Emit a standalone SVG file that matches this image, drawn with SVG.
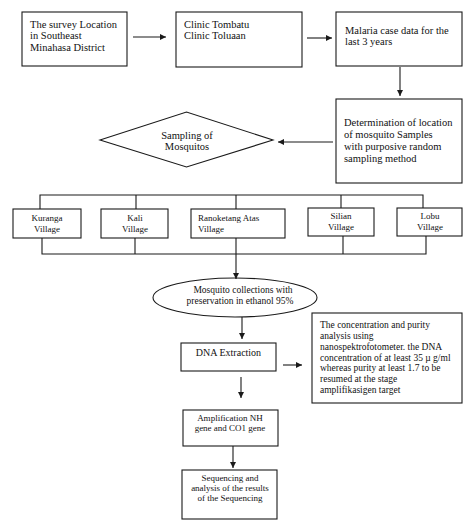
<svg xmlns="http://www.w3.org/2000/svg" width="474" height="526" viewBox="0 0 474 526">
<style>
.b{fill:#fff;stroke:#1a1a1a;stroke-width:1.1}
.t{font-family:"Liberation Serif","Times New Roman",serif;fill:#111}
.l{font-size:10.5px}
.s{font-size:9px}
.m{font-size:9.5px}
.c{text-anchor:middle}
.w{fill:none;stroke:#1a1a1a;stroke-width:1.1}
</style>
<defs>
<marker id="ah" viewBox="0 0 10 10" refX="10" refY="5" markerWidth="6" markerHeight="6" markerUnits="userSpaceOnUse" orient="auto">
<path d="M0,0 L10,5 L0,10 z" fill="#1a1a1a"/>
</marker>
</defs>
<rect width="474" height="526" fill="#fff"/>

<g id="survey">
<rect class="b" x="22" y="12" width="105" height="54"/>
<text class="t l" x="30" y="27.5">The survey Location</text>
<text class="t l" x="30" y="39">in Southeast</text>
<text class="t l" x="30" y="50.5">Minahasa District</text>
</g>
<g id="clinic">
<rect class="b" x="176" y="12" width="126" height="55"/>
<text class="t l" x="184" y="27.5">Clinic Tombatu</text>
<text class="t l" x="184" y="38.5">Clinic Toluaan</text>
</g>
<g id="malaria">
<rect class="b" x="336" y="12" width="126" height="54"/>
<text class="t l" x="345" y="33.5">Malaria case data for the</text>
<text class="t l" x="345" y="45">last 3 years</text>
</g>
<g id="determination">
<rect class="b" x="336" y="99" width="126" height="84"/>
<text class="t l" x="344" y="125.5">Determination of location</text>
<text class="t l" x="344" y="137.5">of mosquito Samples</text>
<text class="t l" x="344" y="149.5">with purposive random</text>
<text class="t l" x="344" y="162">sampling method</text>
</g>
<g id="sampling">
<polygon class="b" points="100,140 186.5,112 273,140 186.5,167"/>
<text class="t l c" x="187" y="138.5">Sampling of</text>
<text class="t l c" x="187" y="150">Mosquitos</text>
</g>
<g id="kuranga">
<rect class="b" x="13" y="209" width="68" height="29"/>
<text class="t s c" x="47" y="221">Kuranga</text>
<text class="t s c" x="47" y="232">Village</text>
</g>
<g id="kali">
<rect class="b" x="101" y="209" width="67" height="29"/>
<text class="t s c" x="135" y="221">Kali</text>
<text class="t s c" x="135" y="232">Village</text>
</g>
<g id="ranoketang">
<rect class="b" x="191" y="209" width="94" height="29"/>
<text class="t s" x="198" y="221">Ranoketang Atas</text>
<text class="t s" x="198" y="232">Village</text>
</g>
<g id="silian">
<rect class="b" x="308" y="208" width="66" height="28"/>
<text class="t s c" x="341" y="218.5">Silian</text>
<text class="t s c" x="341" y="229.5">Village</text>
</g>
<g id="lobu">
<rect class="b" x="397" y="208" width="65" height="28"/>
<text class="t s c" x="430" y="218.5">Lobu</text>
<text class="t s c" x="430" y="229.5">Village</text>
</g>
<g id="collection">
<ellipse class="b" cx="235" cy="297.5" rx="82" ry="19.5"/>
<text class="t m c" x="243" y="293">Mosquito collections with</text>
<text class="t m c" x="240" y="303.5">preservation in ethanol 95%</text>
</g>
<g id="dna">
<rect class="b" x="181" y="343" width="95" height="28"/>
<text class="t c" style="font-size:10px" x="228.5" y="356">DNA Extraction</text>
</g>
<g id="concentration">
<rect class="b" x="312" y="313" width="150" height="90"/>
<text class="t m" x="320" y="328">The concentration and purity</text>
<text class="t m" x="320" y="338.5">analysis using</text>
<text class="t m" x="320" y="349.5">nanospektrofotometer. the DNA</text>
<text class="t m" x="320" y="360.5">concentration of at least 35 µ g/ml</text>
<text class="t m" x="320" y="371">whereas purity at least 1.7 to be</text>
<text class="t m" x="320" y="381.5">resumed at the stage</text>
<text class="t m" x="320" y="393">amplifikasigen target</text>
</g>
<g id="amplification">
<rect class="b" x="183" y="410" width="95" height="36"/>
<text class="t s c" x="230" y="421">Amplification NH</text>
<text class="t s c" x="230" y="431">gene and CO1 gene</text>
</g>
<g id="sequencing">
<rect class="b" x="182" y="470" width="95" height="49"/>
<text class="t s c" x="230" y="481">Sequencing and</text>
<text class="t s c" x="230" y="491">analysis of the results</text>
<text class="t s c" x="230" y="501">of the Sequencing</text>
</g>

<g id="connectors">
<line class="w" x1="133" y1="37" x2="166" y2="37" marker-end="url(#ah)"/>
<line class="w" x1="307" y1="38" x2="332" y2="38" marker-end="url(#ah)"/>
<line class="w" x1="400" y1="67" x2="400" y2="96" marker-end="url(#ah)"/>
<line class="w" x1="333" y1="142" x2="278" y2="142" marker-end="url(#ah)"/>
<path class="w" d="M40,209 V195 H423 V208 M136,195 V209 M236,195 V209 M341,195 V208"/>
<path class="w" d="M42,238 V254 H426 V236 M135,238 V254 M343,236 V254"/>
<line class="w" x1="236" y1="238" x2="236" y2="279" marker-end="url(#ah)"/>
<line class="w" x1="242" y1="317" x2="242" y2="339" marker-end="url(#ah)"/>
<line class="w" x1="283" y1="365" x2="302" y2="365" marker-end="url(#ah)"/>
<line class="w" x1="241" y1="377" x2="241" y2="398" marker-end="url(#ah)"/>
<line class="w" x1="233" y1="446" x2="233" y2="468" marker-end="url(#ah)"/>
</g>
</svg>
